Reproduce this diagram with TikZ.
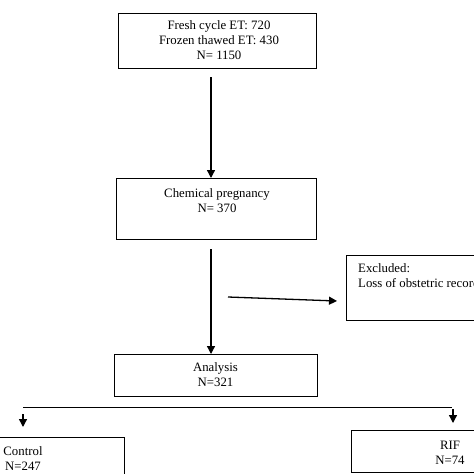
\documentclass[tikz,border=0pt]{standalone}
\usepackage{fontspec}
\setmainfont{Liberation Serif}
\usetikzlibrary{arrows.meta}
\begin{document}
\begin{tikzpicture}[x=1pt,y=-1pt,
  box/.style={draw,line width=0.9pt,inner sep=0pt,anchor=north west},
  txt/.style={font=\fontsize{12.8}{15}\selectfont,align=center,inner sep=0pt},
  arr/.style={line width=1.3pt,-{Triangle[length=8pt,width=8pt]}},
  ln/.style={line width=0.8pt}]
\clip (0,0) rectangle (474,474);
\fill[white] (0,0) rectangle (474,474);
% boxes
\node[box,minimum width=198pt,minimum height=55pt] (b1) at (118,13) {};
\node[txt] (t1) at (219,40) {Fresh cycle ET: 720\\Frozen thawed ET: 430\\N= 1150};
\node[box,minimum width=200pt,minimum height=61pt] (b2) at (116,178) {};
\node[txt] (t2) at (217,201) {Chemical pregnancy\\N= 370};
\node[box,minimum width=180pt,minimum height=65pt] (b3) at (346,255) {};
\node[txt,align=left,anchor=west] (t3) at (358,275.5) {Excluded:\\Loss of obstetric records};
\node[box,minimum width=203pt,minimum height=42pt] (b4) at (114,354) {};
\node[txt] (t4) at (215.5,375) {Analysis\\N=321};
\node[box,minimum width=202pt,minimum height=60pt] (b5) at (-78,437) {};
\node[txt] (t5) at (23,458.5) {Control\\N=247};
\node[box,minimum width=198pt,minimum height=42pt] (b6) at (351,430) {};
\node[txt] (t6) at (450,452.5) {RIF\\N=74};
% connectors
\coordinate (a1) at (211,77);
\coordinate (a2) at (211,249);
\coordinate (e1) at (228,297);
\coordinate (e2) at (337,301);
\coordinate (hl) at (23,407);
\coordinate (hr) at (452,407);
\coordinate (la) at (23,414);
\coordinate (ra) at (453,409);
\draw[arr] (a1) -- (a1 |- b2.north);
\draw[arr] (a2) -- (a2 |- b4.north);
\draw[arr] (e1) -- (e2);
\draw[ln] (hl) -- (hr);
\draw[arr] (la) -- ++(0,13);
\draw[arr] (ra) -- ++(0,14);
\end{tikzpicture}
\end{document}
